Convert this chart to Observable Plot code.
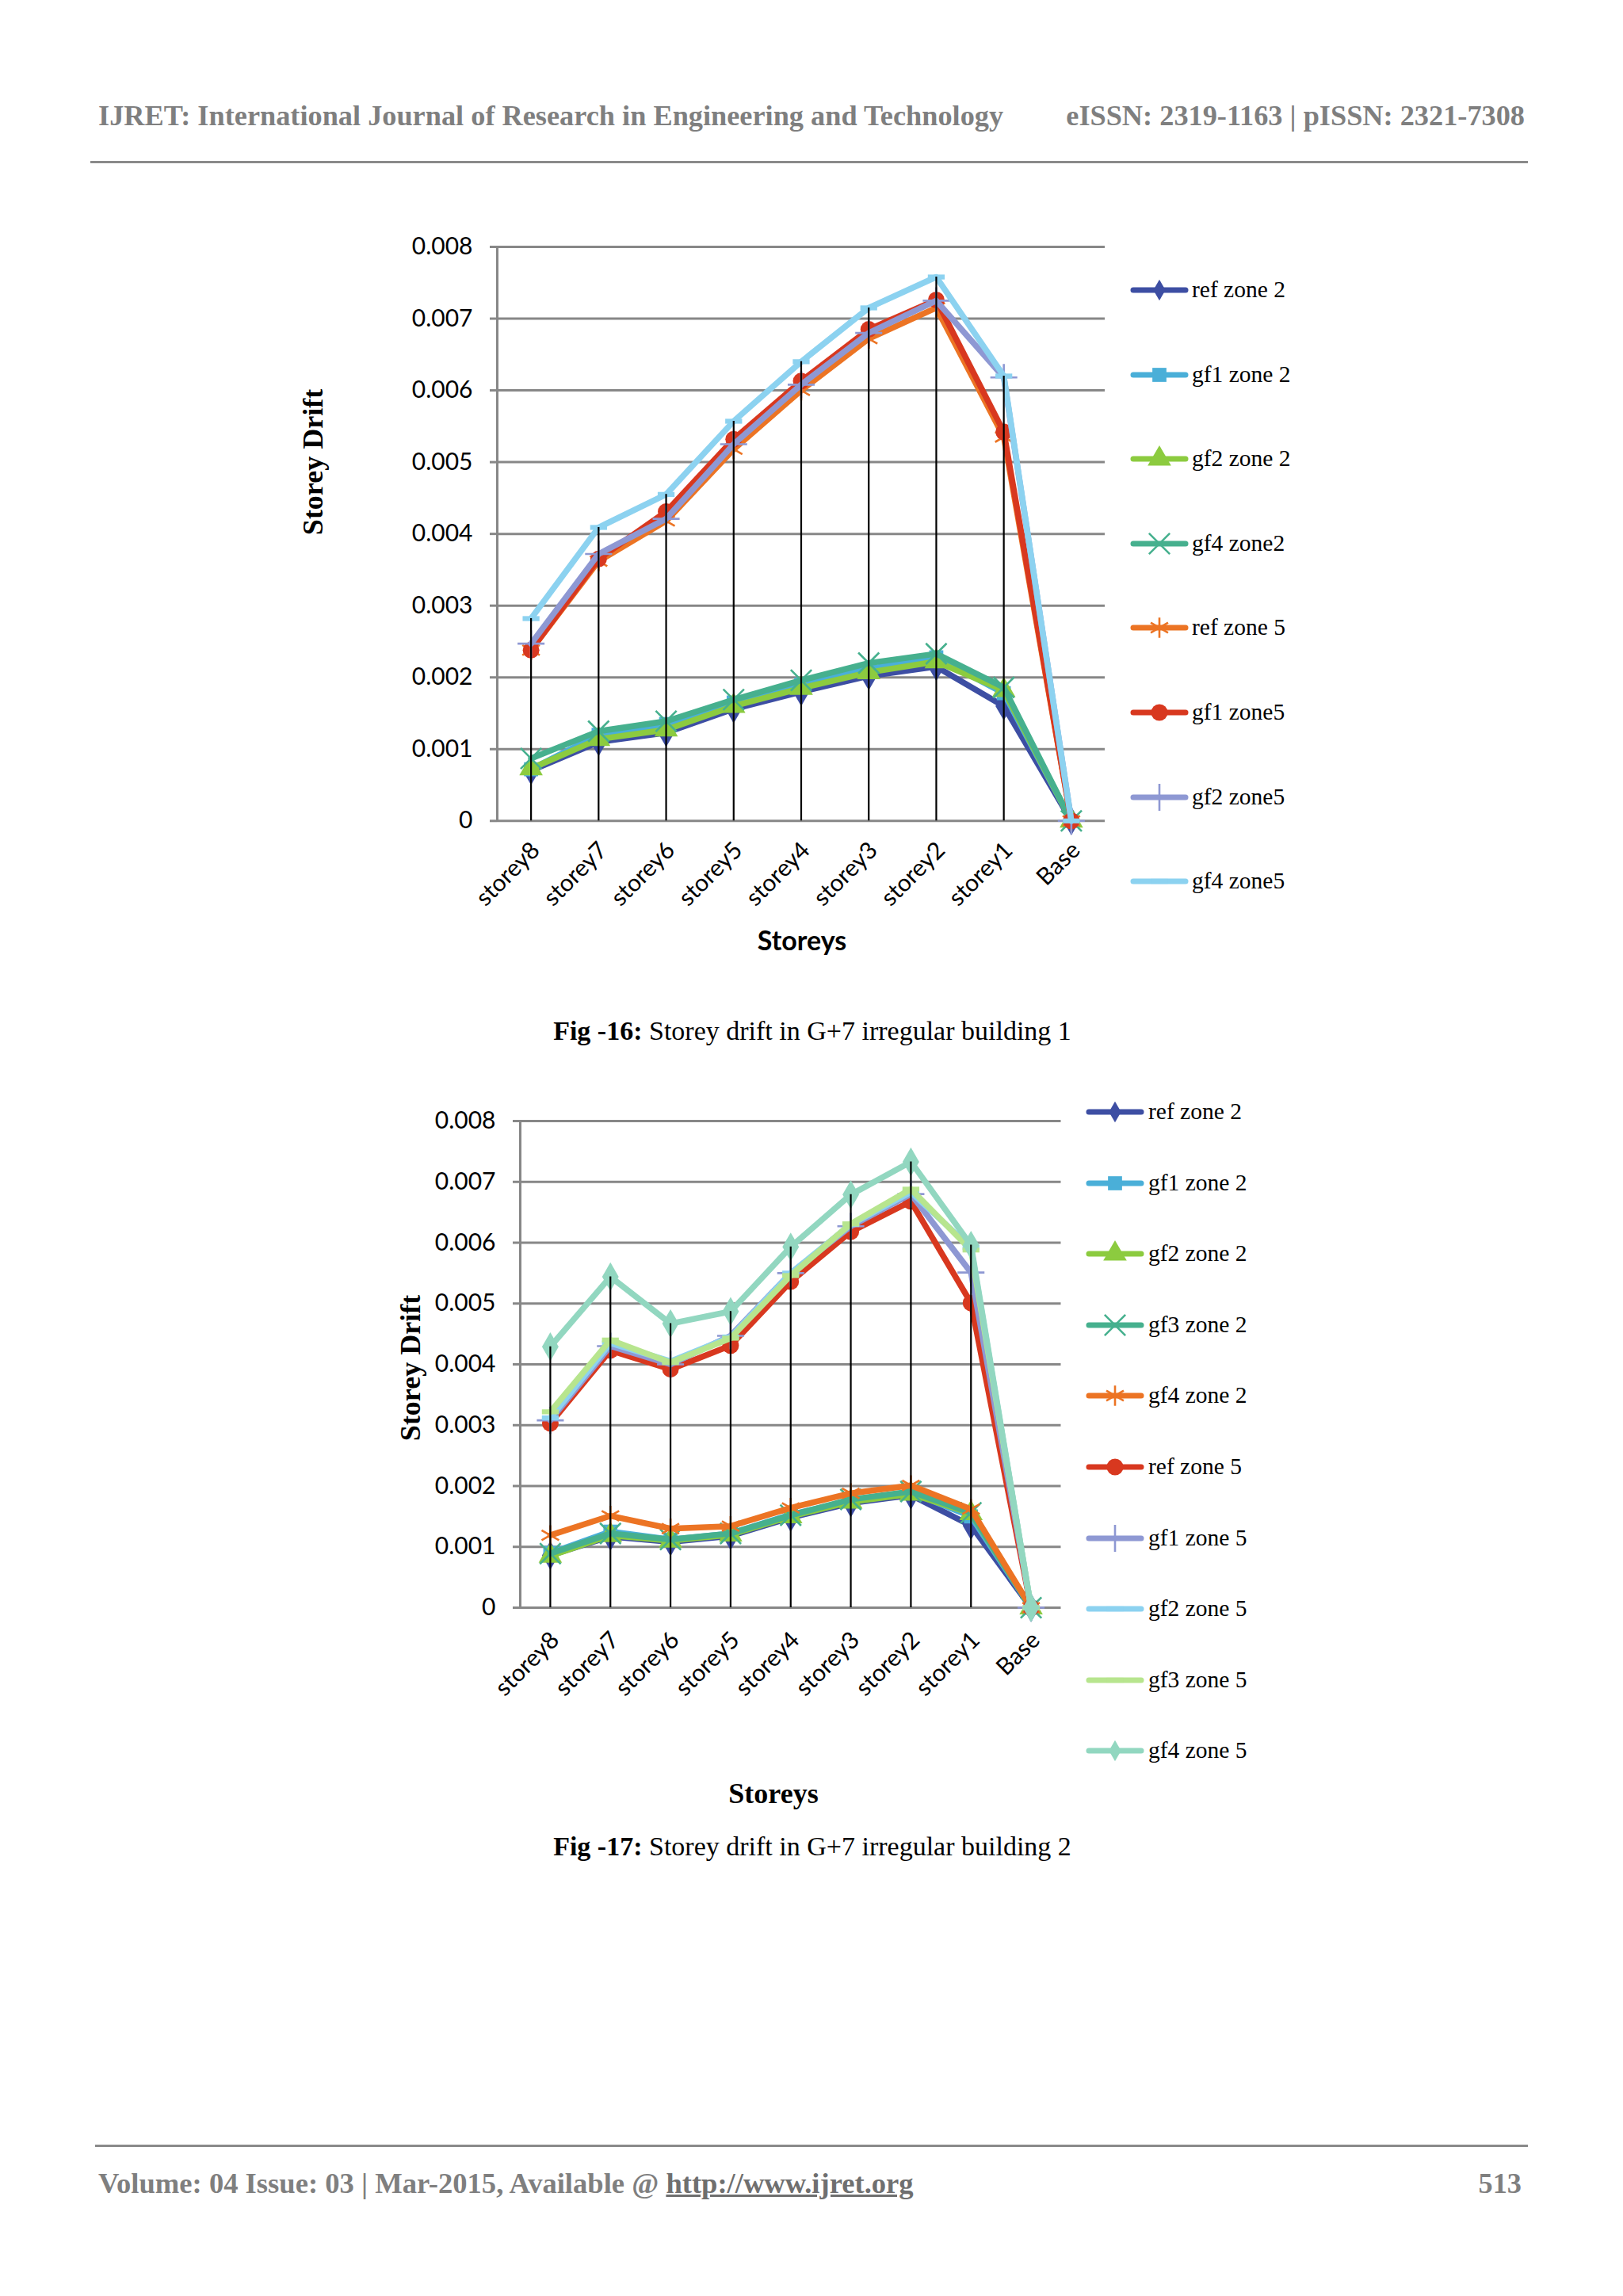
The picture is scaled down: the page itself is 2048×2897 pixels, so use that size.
<!DOCTYPE html>
<html><head><meta charset="utf-8">
<script src="https://cdn.jsdelivr.net/npm/d3@7"></script>
<script src="https://cdn.jsdelivr.net/npm/@observablehq/plot@0.6"></script>
<style>
html,body{margin:0;padding:0;background:#fff;}
#page{position:relative;width:2048px;height:2897px;background:#fff;overflow:hidden;}
.abs{position:absolute;white-space:nowrap;}
.serif{font-family:"Liberation Serif","Times New Roman",serif;}
.hdr{font-weight:bold;color:#7f7f7f;font-size:36.3px;line-height:36px;}
.rule{position:absolute;height:3px;background:#8a8a8a;}
.center{transform:translate(-50%,-50%);}
.vert{transform:translate(-50%,-50%) rotate(-90deg);}
.leg{font-size:29.5px;color:#000;line-height:30px;}
svg{overflow:visible;}
</style></head><body><div id="page"></div>
<script>
// ---------- data ----------
const categories = ["storey8","storey7","storey6","storey5","storey4","storey3","storey2","storey1","Base"];
const yTicks = [0,0.001,0.002,0.003,0.004,0.005,0.006,0.007,0.008];

// Fig 16 – building 1 (storey drift)
const b1_ref_zone2 = [0.00070,0.00110,0.00123,0.00156,0.00180,0.00202,0.00215,0.00160,0];
const b1_gf1_zone2 = [0.00072,0.00120,0.00135,0.00165,0.00190,0.00212,0.00228,0.00178,0];
const b1_gf2_zone2 = [0.00073,0.00114,0.00127,0.00160,0.00185,0.00207,0.00222,0.00182,0];
const b1_gf4_zone2 = [0.00087,0.00125,0.00139,0.00169,0.00196,0.00220,0.00233,0.00186,0];
const b1_ref_zone5 = [0.00238,0.00362,0.00418,0.00518,0.00600,0.00672,0.00715,0.00535,0];
const b1_gf1_zone5 = [0.00238,0.00365,0.00431,0.00532,0.00613,0.00685,0.00726,0.00542,0];
const b1_gf2_zone5 = [0.00247,0.00372,0.00421,0.00525,0.00608,0.00680,0.00725,0.00618,0];
const b1_gf4_zone5 = [0.00282,0.00409,0.00455,0.00557,0.00640,0.00715,0.00758,0.00620,0];

// Fig 17 – building 2 (storey drift)
const b2_ref_zone2 = [0.00086,0.00117,0.00108,0.00118,0.00148,0.00172,0.00185,0.00135,0];
const b2_gf1_zone2 = [0.00090,0.00125,0.00112,0.00122,0.00153,0.00176,0.00190,0.00150,0];
const b2_gf2_zone2 = [0.00085,0.00119,0.00110,0.00120,0.00150,0.00174,0.00187,0.00155,0];
const b2_gf3_zone2 = [0.00089,0.00122,0.00112,0.00122,0.00152,0.00178,0.00191,0.00156,0];
const b2_gf4_zone2 = [0.00119,0.00151,0.00130,0.00134,0.00164,0.00188,0.00201,0.00162,0];
const b2_ref_zone5 = [0.00303,0.00423,0.00392,0.00431,0.00536,0.00618,0.00668,0.00501,0];
const b2_gf1_zone5 = [0.00308,0.00430,0.00400,0.00447,0.00550,0.00627,0.00680,0.00551,0];
const b2_gf2_zone5 = [0.00312,0.00435,0.00405,0.00445,0.00550,0.00630,0.00683,0.00592,0];
const b2_gf3_zone5 = [0.00322,0.00440,0.00403,0.00443,0.00546,0.00631,0.00688,0.00588,0];
const b2_gf4_zone5 = [0.00429,0.00544,0.00467,0.00487,0.00593,0.00679,0.00733,0.00596,0];

// ---------- styles ----------
const C = {
  navy:"#3D4EA3", cyan:"#4AAFD8", green:"#8CCB3F", teal:"#46B08E", orange:"#EC7424",
  red:"#D8381F", lav:"#8E98D3", sky:"#8CD2F0", lgreen:"#B7E58E", mint:"#92D7C0"
};
const dashSymbol = {draw(ctx, size){ const s=Math.sqrt(size); ctx.moveTo(-0.75*s,-0.22*s); ctx.lineTo(0.75*s,-0.22*s); ctx.lineTo(0.75*s,0.22*s); ctx.lineTo(-0.75*s,0.22*s); ctx.closePath(); }};
const MARK = {
  diamond:{plot:"diamond", d3:d3.symbolDiamond, filled:true, r:11, lr:8},
  square:{plot:"square", d3:d3.symbolSquare, filled:true, r:10, lr:10},
  triangle:{plot:"triangle", d3:d3.symbolTriangle, filled:true, r:11, lr:11},
  times:{plot:"times", d3:d3.symbolTimes, filled:false, r:12, lr:12},
  asterisk:{plot:"asterisk", d3:d3.symbolAsterisk, filled:false, r:12, lr:12},
  circle:{plot:"circle", d3:d3.symbolCircle, filled:true, r:10.5, lr:10.5},
  plus:{plot:"plus", d3:d3.symbolPlus, filled:false, r:11, lr:11},
  dash:{plot:dashSymbol, d3:dashSymbol, filled:true, r:8, lr:8}
};

const series1 = [
  {name:"ref zone 2", values:b1_ref_zone2, color:C.navy, marker:"diamond"},
  {name:"gf1 zone 2", values:b1_gf1_zone2, color:C.cyan, marker:"square"},
  {name:"gf2 zone 2", values:b1_gf2_zone2, color:C.green, marker:"triangle"},
  {name:"gf4 zone2", values:b1_gf4_zone2, color:C.teal, marker:"times"},
  {name:"ref zone 5", values:b1_ref_zone5, color:C.orange, marker:"asterisk"},
  {name:"gf1 zone5", values:b1_gf1_zone5, color:C.red, marker:"circle"},
  {name:"gf2 zone5", values:b1_gf2_zone5, color:C.lav, marker:"plus"},
  {name:"gf4 zone5", values:b1_gf4_zone5, color:C.sky, marker:"dash"}
];
const series2 = [
  {name:"ref zone 2", values:b2_ref_zone2, color:C.navy, marker:"diamond"},
  {name:"gf1 zone 2", values:b2_gf1_zone2, color:C.cyan, marker:"square"},
  {name:"gf2 zone 2", values:b2_gf2_zone2, color:C.green, marker:"triangle"},
  {name:"gf3 zone 2", values:b2_gf3_zone2, color:C.teal, marker:"times"},
  {name:"gf4 zone 2", values:b2_gf4_zone2, color:C.orange, marker:"asterisk"},
  {name:"ref zone 5", values:b2_ref_zone5, color:C.red, marker:"circle"},
  {name:"gf1 zone 5", values:b2_gf1_zone5, color:C.lav, marker:"plus"},
  {name:"gf2 zone 5", values:b2_gf2_zone5, color:C.sky, marker:"dash"},
  {name:"gf3 zone 5", values:b2_gf3_zone5, color:C.lgreen, marker:"dash"},
  {name:"gf4 zone 5", values:b2_gf4_zone5, color:C.mint, marker:"diamond"}
];

const page = document.getElementById("page");
function addDiv(html, cls, style){ const d=document.createElement("div"); d.className="abs "+cls; d.innerHTML=html; Object.assign(d.style, style); page.appendChild(d); return d; }

// ---------- header / footer ----------
addDiv("IJRET: International Journal of Research in Engineering and Technology","serif hdr",{left:"124px",top:"128px"});
addDiv("eISSN: 2319-1163 | pISSN: 2321-7308","serif hdr",{right:"124px",top:"128px"});
const r1=document.createElement("div"); r1.className="rule"; Object.assign(r1.style,{left:"114px",width:"1814px",top:"203px"}); page.appendChild(r1);
const r2=document.createElement("div"); r2.className="rule"; Object.assign(r2.style,{left:"120px",width:"1808px",top:"2706px"}); page.appendChild(r2);
addDiv('Volume: 04 Issue: 03 | Mar-2015, Available @ <span style="text-decoration:underline;color:#6f6f6f">http://www.ijret.org</span>',"serif hdr",{left:"124px",top:"2737px",fontSize:"36.6px"});
addDiv("513","serif hdr",{right:"128px",top:"2737px"});

// ---------- chart ----------
function drawChart(series, g){
  const mL=140, mR=12, mT=24, mB=150;
  const W=g.right-g.left, H=g.bottom-g.top;
  const maxes = categories.map((c,i)=>({i, v:d3.max(series, s=>s.values[i])})).filter(d=>d.v>0);
  const marks = [
    Plot.gridY(yTicks,{y:d=>d, stroke:"#878787", strokeOpacity:1, strokeWidth:3}),
    Plot.axisY(yTicks,{tickSize:9, tickPadding:22, stroke:"#878787", strokeWidth:3, fill:"#000",
      fontSize:30, fontFamily:"Lato, 'Open Sans', sans-serif", label:null,
      tickFormat:d=>d===0?"0":d.toFixed(3)}),
    Plot.ruleX([-0.5],{stroke:"#878787", strokeWidth:3}),
    Plot.text(categories,{x:(d,i)=>i, y:()=>0, text:d=>d, rotate:-45, textAnchor:"end",
      dx:g.tdx, dy:g.tdy, fontSize:30, fill:"#000", fontFamily:"Lato, 'Open Sans', sans-serif"})
  ];
  for(const s of series){
    const pts = s.values.map((v,i)=>({i,v}));
    const m = MARK[s.marker];
    marks.push(Plot.line(pts,{x:"i", y:"v", stroke:s.color, strokeWidth:7.5, strokeLinejoin:"round", strokeLinecap:"round"}));
    marks.push(Plot.dot(pts,{x:"i", y:"v", symbol:()=>m.plot, r:m.r,
      fill:m.filled?s.color:"none", stroke:m.filled?"none":s.color, strokeWidth:m.filled?0:2.6}));
  }
  marks.push(Plot.ruleX(maxes,{x:"i", y1:()=>0, y2:"v", stroke:"#000", strokeWidth:2.2}));
  const svg = Plot.plot({
    width: mL+W+mR, height: mT+H+mB,
    marginLeft:mL, marginRight:mR, marginTop:mT, marginBottom:mB,
    x:{domain:[-0.5,8.5], axis:null},
    y:{domain:[0,0.008], axis:null},
    symbol:{type:"identity"},
    style:{background:"transparent", overflow:"visible"},
    marks
  });
  svg.style.position="absolute";
  svg.style.left=(g.left-mL)+"px";
  svg.style.top=(g.top-mT)+"px";
  page.appendChild(svg);
}

function legend(series, x0, y0, step, textX){
  series.forEach((s,k)=>{
    const cy = y0 + k*step;
    const m = MARK[s.marker];
    const svg = d3.create("svg").attr("width",74).attr("height",30)
      .style("position","absolute").style("left",x0+"px").style("top",(cy-15)+"px");
    svg.append("line").attr("x1",4).attr("x2",70).attr("y1",15).attr("y2",15)
      .attr("stroke",s.color).attr("stroke-width",7).attr("stroke-linecap","round");
    svg.append("path").attr("transform","translate(37,15)")
      .attr("d", d3.symbol(m.d3, Math.PI*m.lr*m.lr)())
      .attr("fill", m.filled?s.color:"none").attr("stroke", m.filled?"none":s.color).attr("stroke-width",2.6);
    page.appendChild(svg.node());
    addDiv(s.name,"serif leg",{left:textX+"px", top:(cy-16)+"px"});
  });
}

drawChart(series1,{left:627, right:1394, top:310.7, bottom:1035, tdx:6, tdy:32});
legend(series1, 1426, 366, 106.6, 1504);
addDiv("Storey Drift","serif vert",{left:"395px",top:"583px",fontSize:"36px",fontWeight:"bold"});
addDiv("Storeys","center",{left:"1012px",top:"1185px",fontSize:"34px",fontWeight:"bold",fontFamily:"Lato, 'Open Sans', sans-serif"});
addDiv("<b>Fig -16:</b> Storey drift in G+7 irregular building 1","serif center",{left:"1025px",top:"1301px",fontSize:"34px"});

drawChart(series2,{left:656, right:1338.5, top:1414, bottom:2028, tdx:6, tdy:36});
legend(series2, 1370, 1403, 89.6, 1449);
addDiv("Storey Drift","serif vert",{left:"518px",top:"1726px",fontSize:"36px",fontWeight:"bold"});
addDiv("Storeys","serif center",{left:"976px",top:"2263px",fontSize:"36px",fontWeight:"bold"});
addDiv("<b>Fig -17:</b> Storey drift in G+7 irregular building 2","serif center",{left:"1025px",top:"2330px",fontSize:"34px"});
</script></body></html>
